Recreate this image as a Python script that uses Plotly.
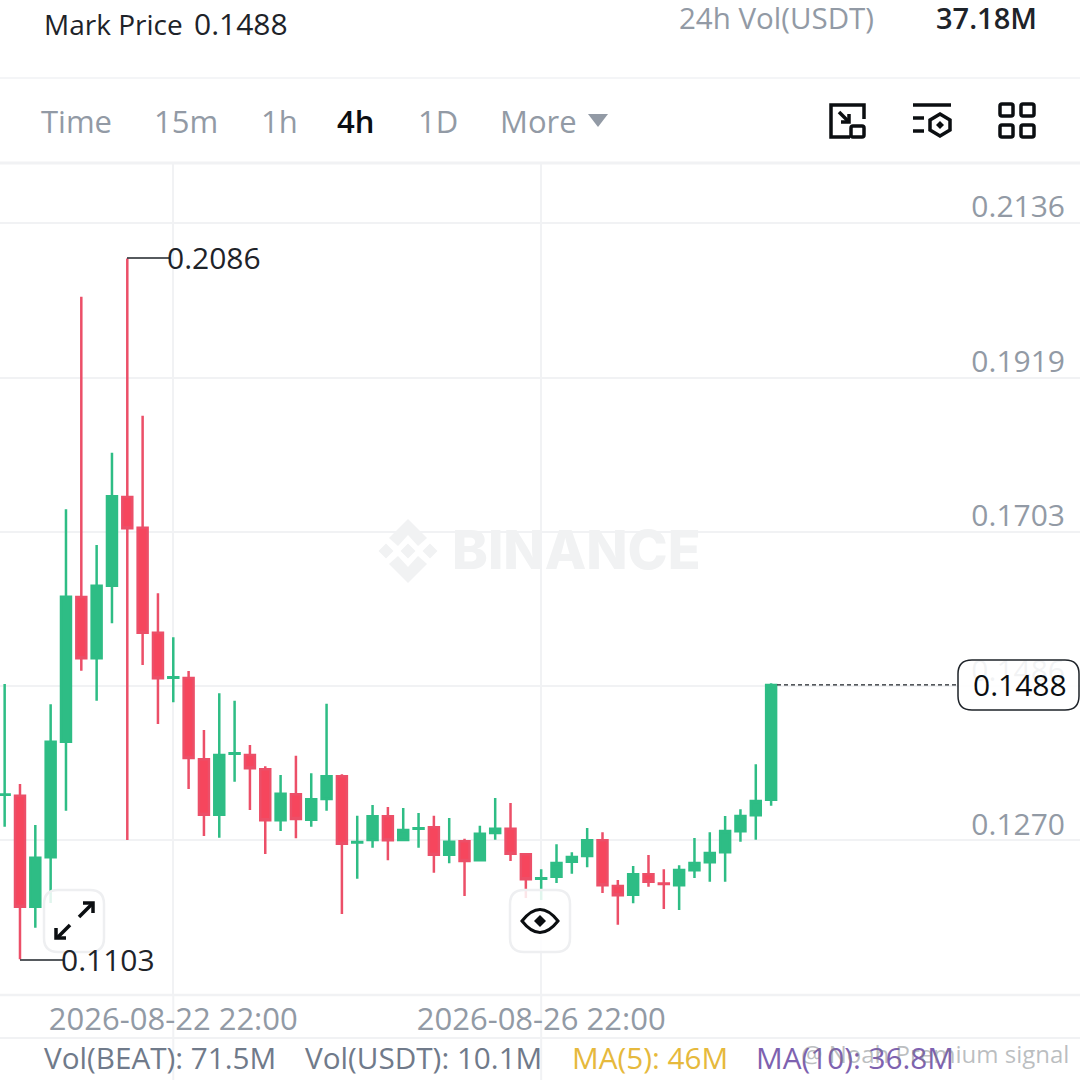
import pandas as pd
import plotly.graph_objects as go

FONT = "Open Sans"
GREEN = "#2EBD85"
RED = "#F6465D"
GRID = "#F1F2F4"
GRAY = "#929AA5"

opens = [0.13340, 0.13326, 0.11769, 0.12462, 0.14083, 0.16113, 0.15253, 0.16272, 0.17516, 0.17085,
         0.15612, 0.14980, 0.14977, 0.13836, 0.13059, 0.13915, 0.13897, 0.13696, 0.12981, 0.13345,
         0.12989, 0.13279, 0.13598, 0.12670, 0.12704, 0.13037, 0.12704, 0.12862, 0.12883, 0.12498,
         0.12686, 0.12420, 0.12803, 0.12863, 0.12504, 0.12161, 0.12190, 0.12400, 0.12480, 0.12700,
         0.12059, 0.11937, 0.12223, 0.12094, 0.12069, 0.12279, 0.12392, 0.12532, 0.12826, 0.13051,
         0.13270]
closes = [0.13344, 0.11769, 0.12456, 0.14083, 0.16117, 0.15253, 0.16272, 0.17526, 0.17077, 0.15612,
          0.14973, 0.14987, 0.13855, 0.13059, 0.13897, 0.13921, 0.13710, 0.12981, 0.13354, 0.12999,
          0.13275, 0.13598, 0.12652, 0.12676, 0.13037, 0.12700, 0.12845, 0.12868, 0.12498, 0.12680,
          0.12410, 0.12793, 0.12863, 0.12512, 0.12153, 0.12167, 0.12382, 0.12466, 0.12700, 0.12069,
          0.11929, 0.12223, 0.12119, 0.12088, 0.12284, 0.12382, 0.12522, 0.12831, 0.13041, 0.13251,
          0.14880]
highs = [0.14893, 0.13490, 0.12915, 0.14608, 0.17343, 0.20326, 0.16843, 0.18137, 0.20860, 0.18657,
         0.16165, 0.15548, 0.15075, 0.14247, 0.14762, 0.14658, 0.14037, 0.13738, 0.13616, 0.13887,
         0.13640, 0.14616, 0.13626, 0.13045, 0.13195, 0.13167, 0.13153, 0.13083, 0.13045, 0.13013,
         0.12723, 0.12905, 0.13294, 0.13223, 0.12522, 0.12293, 0.12644, 0.12532, 0.12873, 0.12812,
         0.12143, 0.12340, 0.12494, 0.12293, 0.12349, 0.12732, 0.12812, 0.13041, 0.13135, 0.13766,
         0.14903]
lows = [0.12891, 0.11030, 0.11474, 0.11821, 0.13115, 0.15079, 0.14658, 0.15744, 0.12704, 0.15159,
        0.14332, 0.14636, 0.13420, 0.12760, 0.12737, 0.13522, 0.13125, 0.12508, 0.12831, 0.12728,
        0.12891, 0.13115, 0.11666, 0.12161, 0.12596, 0.12420, 0.12700, 0.12596, 0.12246, 0.12377,
        0.11919, 0.12406, 0.12709, 0.12410, 0.11891, 0.11863, 0.12101, 0.12232, 0.12321, 0.11961,
        0.11516, 0.11816, 0.12049, 0.11736, 0.11722, 0.12171, 0.12119, 0.12119, 0.12680, 0.12709,
        0.13186]
times = pd.date_range("2026-08-21 02:00", periods=len(opens), freq="4h")

price_ticks = [0.2136, 0.1919, 0.1703, 0.1486, 0.1270, 0.1053]
date_ticks = ["2026-08-22 22:00", "2026-08-26 22:00"]
tabs = ["Time", "15m", "1h", "4h", "1D", "More"]
tab_x = [42, 155, 262, 338, 419, 501]
vol_labels = ["Vol(BEAT): 71.5M", "Vol(USDT): 10.1M", "MA(5): 46M", "MA(10): 36.8M"]
vol_x = [45, 306, 573, 757]
vol_colors = ["#707A8A", "#707A8A", "#E6B93C", "#7E62B0"]


def px(x):
    return x / 1080


def py(y):
    return 1 - y / 1080


def path(points, close=False):
    d = "M " + " L ".join(f"{px(x)} {py(y)}" for x, y in points)
    return d + (" Z" if close else "")


def rounded(x0, y0, x1, y1, r):
    return (f"M {px(x0 + r)} {py(y0)} L {px(x1 - r)} {py(y0)} Q {px(x1)} {py(y0)} {px(x1)} {py(y0 + r)} "
            f"L {px(x1)} {py(y1 - r)} Q {px(x1)} {py(y1)} {px(x1 - r)} {py(y1)} "
            f"L {px(x0 + r)} {py(y1)} Q {px(x0)} {py(y1)} {px(x0)} {py(y1 - r)} "
            f"L {px(x0)} {py(y0 + r)} Q {px(x0)} {py(y0)} {px(x0 + r)} {py(y0)} Z")


shapes = []


def stroke(d, width=3.5, color="#0B0E11", fill=None):
    shape = dict(type="path", xref="paper", yref="paper", path=d, line=dict(color=color, width=width))
    if fill:
        shape["fillcolor"] = fill
    shapes.append(shape)


def text(x, y, s, size=29, color="#1E2329", anchor="left", weight=None, family=FONT):
    # annotations sit a little off the asked spot, nudge them back
    fig.add_annotation(xref="paper", yref="paper", x=px(x), y=py(y), text=s, showarrow=False,
                       xanchor=anchor, yanchor="middle", borderpad=0,
                       xshift=-2 if anchor == "left" else 2, yshift=2,
                       font=dict(family=family, size=size, color=color, weight=weight))


fig = go.Figure(go.Candlestick(
    x=times, open=opens, high=highs, low=lows, close=closes,
    increasing=dict(line=dict(color=GREEN, width=2.5), fillcolor=GREEN),
    decreasing=dict(line=dict(color="#EC4F68", width=2.5), fillcolor=RED),
    whiskerwidth=0, hoverinfo="skip", showlegend=False,
))

# panel rules
for y, w in [(78, 1.5), (163, 3), (995, 2.5), (1038, 2)]:
    stroke(path([(0, y), (1080, y)]), w, GRID)

# date gridlines run on through the axis strip
for d in date_ticks:
    shapes.append(dict(type="line", xref="x", yref="paper", x0=d, x1=d, y0=0, y1=py(995),
                       line=dict(color=GRID, width=2), layer="below"))

# watermark logo
wm = "#F1F2F3"
for cx, cy, r in [(408, 551, 7.5), (386, 551, 7.5), (430, 551, 7.5)]:
    stroke(path([(cx - r, cy), (cx, cy - r), (cx + r, cy), (cx, cy + r)], True), 0, wm, wm)
stroke(path([(408, 519), (427, 538), (418, 546), (408, 535), (398, 546), (389, 538)], True), 0, wm, wm)
stroke(path([(408, 583), (427, 564), (418, 556), (408, 567), (398, 556), (389, 564)], True), 0, wm, wm)

# high, low and last price markers
stroke(path([(127, 258), (169, 258)]), 1.5, "#1E2329")
stroke(path([(20, 960), (63, 960)]), 1.5, "#1E2329")
shapes.append(dict(type="line", xref="paper", yref="y", x0=px(777), x1=px(958), y0=closes[-1], y1=closes[-1],
                   line=dict(color="#1E2329", width=1.4, dash="4px,3px")))
stroke(rounded(958, 660, 1079, 710, 14), 1.5, "#1E2329", "rgba(255,255,255,0.88)")

# chart buttons
stroke(rounded(44, 890, 104, 952, 14), 2.5, "#EEEFF1", "rgba(255,255,255,0.85)")
stroke(rounded(510, 890, 570, 952, 14), 2.5, "#EEEFF1", "rgba(255,255,255,0.85)")
stroke(path([(79, 917), (92, 904)]))
stroke(path([(83, 903), (93, 903), (93, 913)]))
stroke(path([(70, 925), (57, 938)]))
stroke(path([(56, 928), (56, 938), (66, 938)]))
stroke(f"M {px(522)} {py(921)} Q {px(540)} {py(898)} {px(558)} {py(921)} "
       f"Q {px(540)} {py(944)} {px(522)} {py(921)} Z", 3)
stroke(path([(540, 915), (546, 921), (540, 927), (534, 921)], True), 0, "#0B0E11", "#0B0E11")

# toolbar icons
stroke(path([(850, 105), (864, 105), (864, 119)]))
stroke(path([(850, 137), (831, 137), (831, 105), (850, 105)]))
stroke(rounded(851, 126, 864, 137, 2), 3.5)
stroke(path([(839, 112), (849, 122)]))
stroke(path([(849, 114), (849, 122), (841, 122)]))
stroke(path([(913, 105), (951, 105)]))
stroke(path([(913, 118), (924, 118)]))
stroke(path([(913, 131), (924, 131)]))
stroke(path([(940, 114), (950, 120), (950, 130), (940, 136), (930, 130), (930, 120)], True), 3.5)
stroke(path([(940, 121), (944, 125), (940, 129), (936, 125)], True), 0, "#0B0E11", "#0B0E11")
for x0, y0 in [(1000, 104), (1021, 104), (1000, 125), (1021, 125)]:
    stroke(rounded(x0, y0, x0 + 13, y0 + 12, 2), 3.5)
stroke(path([(588, 114), (608, 114), (598, 127)], True), 0, "#929AA5", "#929AA5")

fig.update_layout(
    width=1080, height=1080,
    margin=dict(l=0, r=0, t=0, b=0),
    paper_bgcolor="white", plot_bgcolor="white",
    showlegend=False, boxgap=0.35, boxgroupgap=0,
    font=dict(family=FONT),
    shapes=shapes,
    xaxis=dict(
        domain=[0, 1], range=["2026-08-21 00:47", "2026-09-01 18:36"],
        rangeslider=dict(visible=False), tickmode="array",
        tickvals=date_ticks, ticktext=date_ticks, tickangle=0,
        showgrid=True, gridcolor=GRID, gridwidth=2, zeroline=False, showline=False, ticks="",
        ticklabelstandoff=3, tickfont=dict(family=FONT, size=31, color=GRAY),
    ),
    yaxis=dict(
        domain=[py(995), py(164)], range=[0.1053, 0.22187], side="right",
        tickmode="array", tickvals=price_ticks, ticktext=[f"{v:.4f}" for v in price_ticks],
        ticklabelposition="inside top", ticklabelstandoff=12, ticklabelshift=5,
        showgrid=True, gridcolor=GRID, gridwidth=2, zeroline=False, showline=False, ticks="",
        tickfont=dict(family=FONT, size=30, color=GRAY),
    ),
)

# header
text(45, 26, "Mark Price", 28)
text(195, 26, "0.1488", 30)
text(680, 19, "24h Vol(USDT)", 29.5, GRAY)
text(1036, 19, "37.18M", 29, "#1E2329", "right", 600)
for label, x in zip(tabs, tab_x):
    text(x, 123, label, 31, "#0B0E11" if label == "4h" else GRAY, weight=600 if label == "4h" else None)

# watermark, extremes, last price
text(453, 551, "BINANCE", 54, wm, weight=800, family="Inter")
text(168, 259, "0.2086", 30)
text(62, 961, "0.1103", 30)
text(1066, 686, f"{closes[-1]:.4f}", 30, "#0B0E11", "right")

# volume strip
for label, x, color in zip(vol_labels, vol_x, vol_colors):
    text(x, 1059, label, 29.7, color)
text(802, 1055, "@ Noah Premium signal", 24, "rgba(120,125,130,0.5)")
stroke(path([(775, 1055), (785, 1044), (796, 1055), (785, 1066)], True), 1.5, "rgba(190,192,195,0.7)")

fig.write_html("out.html", config=dict(displayModeBar=False), post_script="document.body.style.margin='0';")
